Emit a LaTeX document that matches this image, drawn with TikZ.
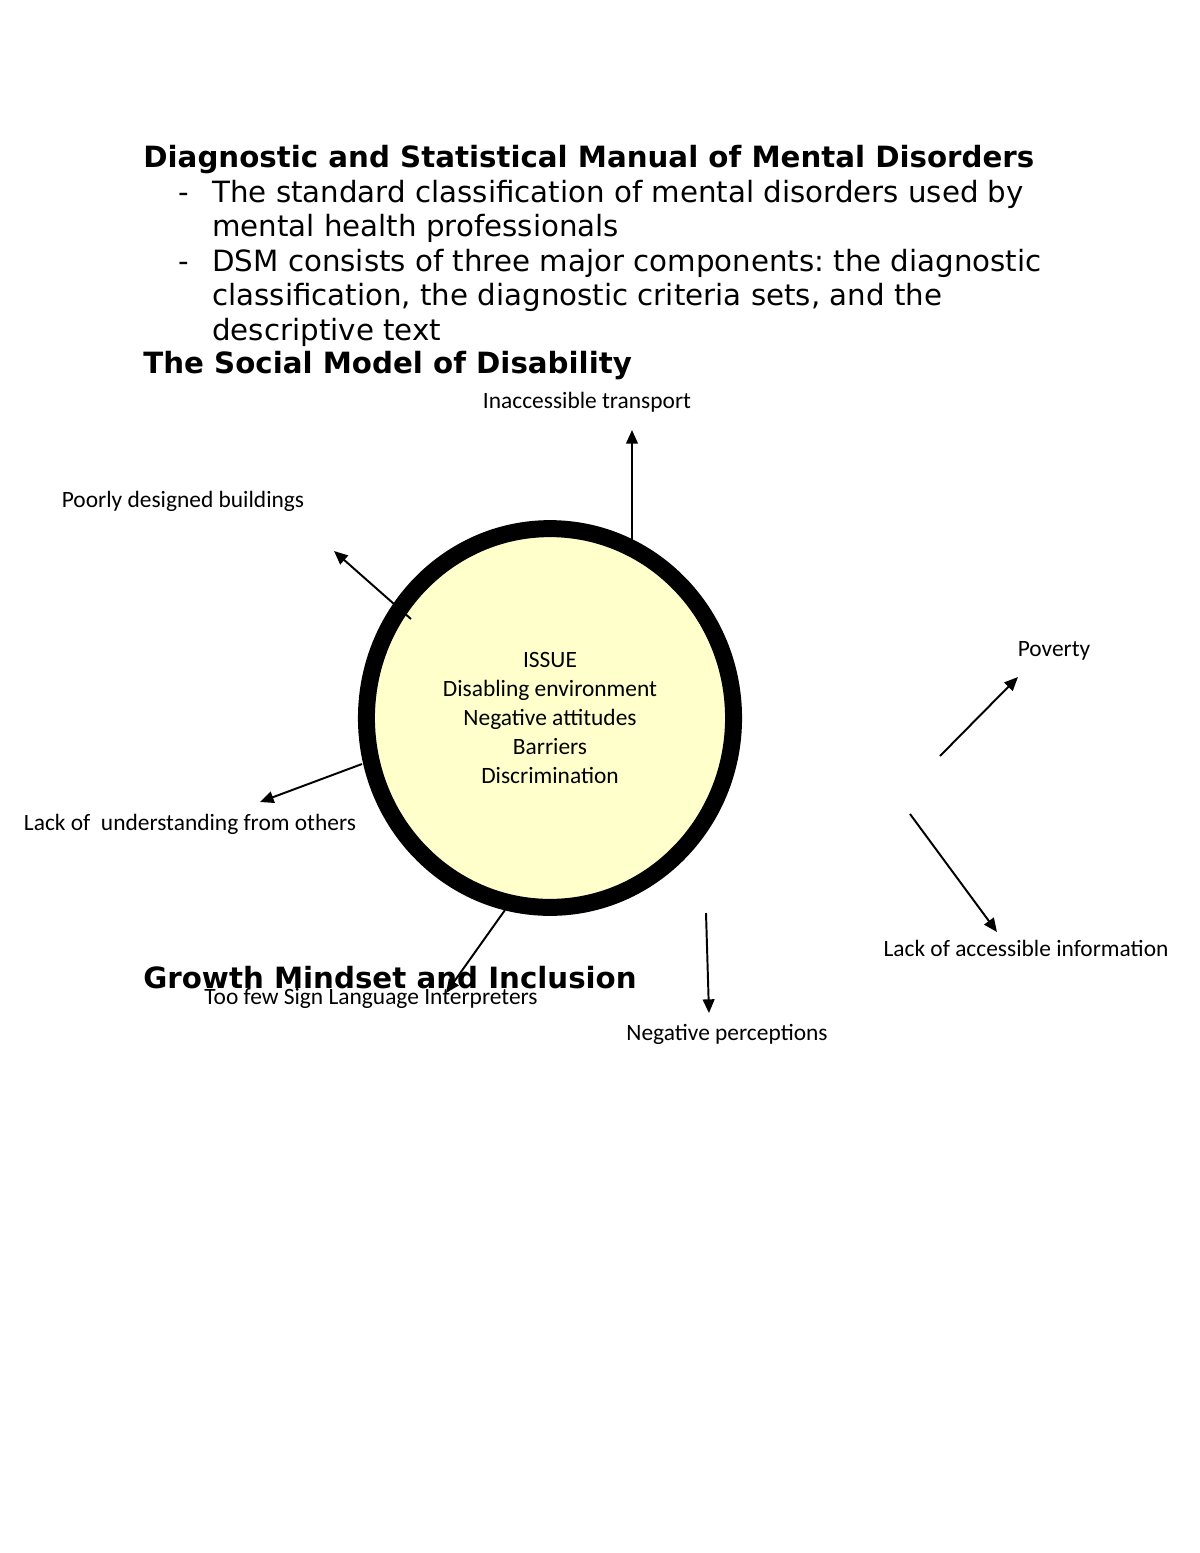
\documentclass[tikz,border=0pt]{standalone}
\usepackage{fontspec}
\usepackage{tikz}
\usetikzlibrary{arrows.meta,shapes.geometric}
\setmainfont{DejaVu Sans}
\newfontfamily\calibri{Carlito}
\definecolor{issuefill}{HTML}{FFFFCC}
\frenchspacing

\tikzset{
  headtext/.style={font=\fontsize{15}{18}\selectfont\bfseries, inner sep=0pt, anchor=mid west},
  bodytext/.style={font=\fontsize{15}{18}\selectfont, inner sep=0pt, anchor=mid west},
  labeltext/.style={font=\calibri\fontsize{12}{14}\selectfont, inner sep=0pt},
  barrier/.style={-{Triangle[length=7pt,width=6pt]}, line width=1pt},
  issuering/.style={ellipse, draw, line width=8.7pt, fill=issuefill,
    minimum width=6.61cm, minimum height=6.82cm, align=center,
    font=\calibri\fontsize{12}{14.8}\selectfont}
}

\begin{document}
\begin{tikzpicture}[x=0.018cm,y=-0.018cm]
  \useasboundingbox (0,0) rectangle (1200,1553);
  % DSM text
  \node[headtext] (dsm) at (143,162) {Diagnostic and Statistical Manual of Mental Disorders};
  \node[bodytext] (dash1) at (178,197) {-};
  \node[bodytext] (line1) at (212,197) {The standard classification of mental disorders used by};
  \node[bodytext] (line2) at (212,231) {mental health professionals};
  \node[bodytext] (dash2) at (178,266) {-};
  \node[bodytext] (line3) at (212,266) {DSM consists of three major components: the diagnostic};
  \node[bodytext] (line4) at (212,300) {classification, the diagnostic criteria sets, and the};
  \node[bodytext] (line5) at (212,335) {descriptive text};
  \node[headtext] (social) at (143,368) {The Social Model of Disability};

  % the issue in the middle
  \node[issuering] (issue) at (550,718)
    {ISSUE\\Disabling environment\\Negative attitudes\\Barriers\\Discrimination};

  % labels round it
  \node[labeltext] (transport) at (587,402) {Inaccessible transport};
  \node[labeltext] (buildings) at (183,501) {Poorly designed buildings};
  \node[labeltext] (understanding) at (190,824) {Lack of~~understanding from others};
  \node[labeltext] (poverty) at (1054,651) {Poverty};
  \node[labeltext] (information) at (1026,948) {Lack of accessible information};
  \node[labeltext] (perceptions) at (727,1034) {Negative perceptions};
  \node[headtext] (growth) at (143,983) {Growth Mindset and Inclusion};
  \node[labeltext] (interpreters) at (371,998) {Too few Sign Language Interpreters};

  % arrow ends
  \coordinate (t0) at (632,540);   \coordinate (t1) at (632,430);
  \coordinate (b0) at (411,619);   \coordinate (b1) at (334,551);
  \coordinate (u0) at (362,764);   \coordinate (u1) at (260,802);
  \coordinate (s0) at (505,910);   \coordinate (s1) at (446,993);
  \coordinate (n0) at (706,913);   \coordinate (n1) at (709,1013);
  \coordinate (i0) at (910,814);   \coordinate (i1) at (997,932);
  \coordinate (p0) at (940,756);   \coordinate (p1) at (1018,677);

  \draw[barrier] (t0) -- (t1);
  \draw[barrier] (b0) -- (b1);
  \draw[barrier] (u0) -- (u1);
  \draw[barrier] (s0) -- (s1);
  \draw[barrier] (n0) -- (n1);
  \draw[barrier] (i0) -- (i1);
  \draw[barrier] (p0) -- (p1);
\end{tikzpicture}
\end{document}
